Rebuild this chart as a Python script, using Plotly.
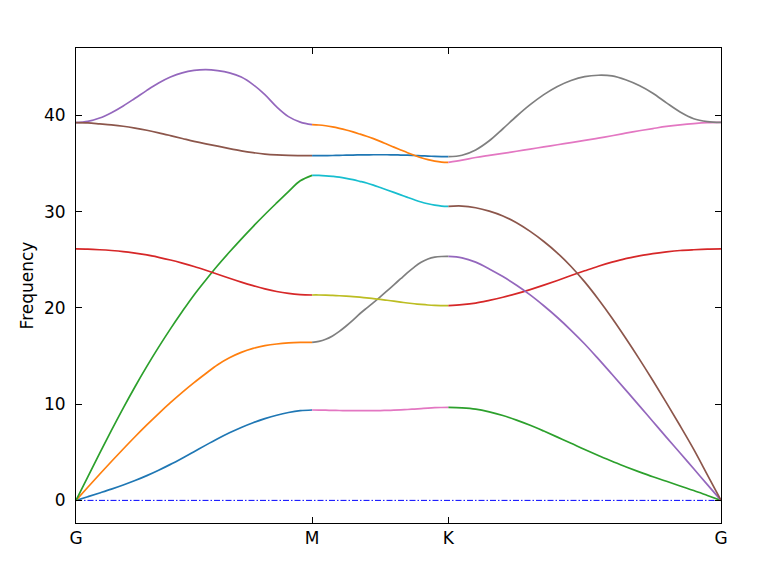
import plotly.graph_objects as go

# High-symmetry points along the path (path coordinate)
tick_labels = ["G", "M", "K", "G"]
tick_pos = [0.0, 0.57735, 0.91068, 1.57735]

# Sample positions (fraction of each segment)
seg_frac = [0.0, 0.05, 0.1, 0.15, 0.2, 0.25, 0.3, 0.35, 0.4, 0.45, 0.5,
            0.55, 0.6, 0.65, 0.7, 0.75, 0.8, 0.85, 0.9, 0.95, 1.0]

# Segment G-M
b1_GM = [0, 0.38, 0.77, 1.17, 1.6, 2.06, 2.57, 3.13, 3.74, 4.39, 5.06,
         5.74, 6.4, 7.02, 7.58, 8.07, 8.49, 8.85, 9.13, 9.32, 9.39]
b2_GM = [0, 1.36, 2.71, 4.04, 5.34, 6.61, 7.84, 9.02, 10.15, 11.22, 12.23,
         13.18, 14.1, 14.82, 15.38, 15.79, 16.07, 16.25, 16.36, 16.41, 16.42]
b3_GM = [0, 2.45, 4.88, 7.27, 9.59, 11.81, 13.92, 15.92, 17.82, 19.62, 21.34,
         22.9, 24.4, 25.8, 27.15, 28.45, 29.7, 30.9, 32.08, 33.2, 33.77]
b4_GM = [26.12, 26.1, 26.04, 25.96, 25.85, 25.69, 25.5, 25.25, 24.97, 24.65, 24.3,
         23.91, 23.5, 23.08, 22.68, 22.31, 21.98, 21.7, 21.5, 21.38, 21.34]
b5_GM = [39.25, 39.37, 39.72, 40.28, 40.98, 41.78, 42.6, 43.36, 43.98, 44.42, 44.67,
         44.75, 44.65, 44.42, 43.98, 43.2, 42.15, 40.88, 39.87, 39.3, 39.03]
b6_GM = [39.25, 39.22, 39.12, 39.01, 38.87, 38.68, 38.45, 38.19, 37.9, 37.6, 37.3,
         37.04, 36.8, 36.55, 36.32, 36.13, 35.98, 35.89, 35.84, 35.82, 35.81]

# Segment M-K
b1_MK = [9.39, 9.38, 9.37, 9.35, 9.34, 9.33, 9.32, 9.32, 9.32, 9.32, 9.33,
         9.35, 9.37, 9.4, 9.44, 9.49, 9.54, 9.59, 9.63, 9.65, 9.66]
b2_MK = [16.42, 16.52, 16.74, 17.09, 17.56, 18.12, 18.73, 19.39, 19.98, 20.55, 21.15,
         21.77, 22.4, 23.03, 23.66, 24.24, 24.74, 25.08, 25.27, 25.34, 25.35]
b3_MK = [33.77, 33.76, 33.72, 33.66, 33.58, 33.46, 33.32, 33.15, 32.97, 32.75, 32.5,
         32.25, 32.0, 31.74, 31.48, 31.23, 31.0, 30.82, 30.68, 30.58, 30.55]
b4_MK = [21.34, 21.34, 21.32, 21.29, 21.26, 21.22, 21.17, 21.11, 21.04, 20.96, 20.88,
         20.79, 20.7, 20.6, 20.51, 20.43, 20.36, 20.3, 20.26, 20.24, 20.23]
b5_MK = [39.03, 39.0, 38.92, 38.8, 38.65, 38.48, 38.28, 38.06, 37.83, 37.58, 37.3,
         37.0, 36.7, 36.41, 36.12, 35.85, 35.6, 35.4, 35.25, 35.15, 35.12]
b6_MK = [35.81, 35.81, 35.82, 35.83, 35.85, 35.86, 35.88, 35.89, 35.9, 35.91, 35.91,
         35.91, 35.9, 35.88, 35.86, 35.83, 35.8, 35.77, 35.74, 35.72, 35.71]

# Segment K-G
b1_KG = [9.66, 9.61, 9.48, 9.2, 8.82, 8.34, 7.8, 7.2, 6.57, 5.93, 5.28,
         4.66, 4.06, 3.5, 2.96, 2.45, 1.99, 1.5, 1.02, 0.51, 0]
b2_KG = [25.35, 25.2, 24.75, 24.05, 23.25, 22.35, 21.35, 20.22, 19.0, 17.67, 16.25,
         14.7, 13.1, 11.48, 9.85, 8.2, 6.55, 4.92, 3.28, 1.64, 0]
b3_KG = [30.55, 30.58, 30.4, 30.05, 29.55, 28.85, 27.95, 26.9, 25.7, 24.3, 22.7,
         20.9, 18.95, 16.87, 14.7, 12.45, 10.13, 7.75, 5.3, 2.66, 0]
b4_KG = [20.23, 20.33, 20.5, 20.78, 21.1, 21.48, 21.9, 22.36, 22.85, 23.36, 23.85,
         24.33, 24.75, 25.12, 25.4, 25.64, 25.82, 25.96, 26.04, 26.1, 26.12]
b5_KG = [35.12, 35.35, 35.62, 35.84, 36.05, 36.27, 36.5, 36.72, 36.95, 37.17, 37.4,
         37.63, 37.88, 38.15, 38.4, 38.63, 38.85, 39.02, 39.15, 39.24, 39.27]
b6_KG = [35.71, 35.86, 36.41, 37.36, 38.61, 39.91, 41.11, 42.16, 43.01, 43.63, 44.03,
         44.17, 44.1, 43.7, 43.1, 42.3, 41.3, 40.35, 39.65, 39.36, 39.27]

palette = ["#1f77b4", "#ff7f0e", "#2ca02c", "#d62728", "#9467bd",
           "#8c564b", "#e377c2", "#7f7f7f", "#bcbd22", "#17becf"]

# within each segment the bands are drawn in order of their frequency at the segment start
segments = [
    (tick_pos[0], tick_pos[1], [b1_GM, b2_GM, b3_GM, b4_GM, b5_GM, b6_GM]),
    (tick_pos[1], tick_pos[2], [b1_MK, b2_MK, b4_MK, b3_MK, b6_MK, b5_MK]),
    (tick_pos[2], tick_pos[3], [b1_KG, b4_KG, b2_KG, b3_KG, b5_KG, b6_KG]),
]

fig = go.Figure()

# zero reference line
fig.add_trace(go.Scatter(x=[tick_pos[0], tick_pos[-1]], y=[0, 0], mode="lines",
                         line=dict(color="#0000ff", width=1, dash="6px,2px,1.5px,2px"),
                         showlegend=False, hoverinfo="skip"))

ci = 0
for x0, x1, bands in segments:
    xs = [x0 + f * (x1 - x0) for f in seg_frac]
    for vals in bands:
        fig.add_trace(go.Scatter(x=xs, y=vals, mode="lines",
                                 line=dict(color=palette[ci % 10], width=1.7,
                                           shape="spline", smoothing=1.0),
                                 showlegend=False))
        ci += 1

axis_common = dict(showline=True, linecolor="black", linewidth=1, mirror="allticks",
                   ticks="inside", ticklen=6, tickwidth=1, tickcolor="black",
                   showgrid=False, zeroline=False,
                   tickfont=dict(family="DejaVu Sans", size=17, color="black"))

fig.update_layout(
    width=753, height=564,
    margin=dict(l=68, r=40, t=40, b=49),
    paper_bgcolor="white", plot_bgcolor="white",
    font=dict(family="DejaVu Sans", size=17, color="black"),
    xaxis=dict(range=[tick_pos[0], tick_pos[-1]], tickvals=tick_pos, ticktext=tick_labels,
               ticklabelstandoff=0, **axis_common),
    yaxis=dict(range=[-2.35, 47.0], tickvals=[0, 10, 20, 30, 40],
               title=dict(text="Frequency", standoff=6, font=dict(size=17)),
               ticklabelstandoff=6, **axis_common),
)

fig.write_html("out.html")
